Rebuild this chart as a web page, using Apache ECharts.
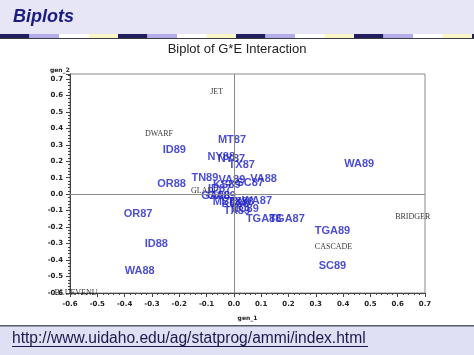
<!DOCTYPE html>
<html lang="en">
<head>
    <meta charset="UTF-8">
    <title>Biplots</title>
    <style>
        html, body, #main {
            width: 100%;
            height: 100%;
            margin: 0;
            padding: 0;
            background: #ffffff;
        }
    </style>
    <script src="https://cdn.jsdelivr.net/npm/echarts@6/dist/echarts.min.js"></script>
</head>
<body>
    <div id="main"></div>
    <script>
        // genotypes (black serif labels)
        var genoNames = ['JET', 'DWARF', 'GLADE', 'BRIDGER', 'CASCADE', 'BLUEVENU'];
        var genoX = [-0.063, -0.274, -0.107, 0.655, 0.365, -0.578];
        var genoY = [0.624, 0.364, 0.023, -0.135, -0.323, -0.597];

        // environments (blue bold labels)
        var envNames = ['MT87', 'ID89', 'NY88', 'NY87', 'TX87', 'WA89', 'TN89', 'OR88', 'VA89', 'VA88',
            'KS89', 'SC87', 'ID87', 'GA88', 'GA89', 'WA87', 'MS88', 'KS88', 'TX88', 'TX89', 'NC89',
            'TGA88', 'TGA87', 'TGA89', 'SC89', 'OR87', 'ID88', 'WA88'];
        var envX = [-0.007, -0.218, -0.046, -0.009, 0.029, 0.459, -0.106, -0.228, -0.007, 0.109,
            -0.026, 0.06, -0.052, -0.067, -0.045, 0.085, -0.025, 0.005, 0.025, 0.011, 0.04,
            0.109, 0.195, 0.361, 0.361, -0.351, -0.284, -0.345];
        var envY = [0.331, 0.266, 0.225, 0.213, 0.178, 0.184, 0.098, 0.061, 0.084, 0.094,
            0.058, 0.068, 0.029, -0.008, -0.008, -0.04, -0.05, -0.058, -0.045, -0.102, -0.09,
            -0.151, -0.151, -0.223, -0.433, -0.12, -0.3, -0.464];

        function toPoints(names, xs, ys) {
            return names.map(function (n, i) { return [xs[i], ys[i], n]; });
        }

        // header stripe: dark, lavender, white, yellow repeating
        var stripeColors = ['#221e5c', '#b4aee6', '#ffffff', '#fbf6c6'];
        var stripes = [];
        for (var i = 0; i < 17; i++) {
            stripes.push({
                type: 'rect',
                shape: { x: i * 29.5, y: 34, width: 29.5, height: 4 },
                style: { fill: stripeColors[i % 4] },
                silent: true
            });
        }

        var chart = echarts.init(document.getElementById('main'));

        var tickFont = {
            fontFamily: 'DejaVu Sans',
            fontSize: 7,
            fontWeight: 'bold',
            color: '#222'
        };

        chart.setOption({
            animation: false,
            graphic: [
                { type: 'rect', shape: { x: 0, y: 0, width: 474, height: 34 }, style: { fill: '#e6e6f7' }, silent: true },
                { type: 'text', left: 13, top: 8, style: { text: 'Biplots', fill: '#1c1c80', font: 'italic bold 18px Arial, "Liberation Sans"' } },
                { type: 'group', children: stripes },
                { type: 'rect', shape: { x: 0, y: 38, width: 474, height: 1 }, style: { fill: '#3a3a4a' }, silent: true },
                { type: 'text', left: 'center', top: 43, style: { text: 'Biplot of G*E Interaction', fill: '#222', font: '13px Arial, "Liberation Sans"' } },
                { type: 'text', left: 50, top: 67, style: { text: 'gen_2', fill: '#222', font: 'bold 6px "DejaVu Sans"' } },
                { type: 'rect', shape: { x: 0, y: 326, width: 474, height: 29 }, style: { fill: '#dfe0f3' }, silent: true },
                { type: 'rect', shape: { x: 0, y: 325, width: 474, height: 1.5 }, style: { fill: '#5a5a66' }, silent: true },
                { type: 'text', left: 12, top: 331, style: { text: 'http://www.uidaho.edu/ag/statprog/ammi/index.html', fill: '#1a1a4a', font: '15.6px Arial, "Liberation Sans"' } },
                { type: 'rect', shape: { x: 12, y: 346, width: 356, height: 1 }, style: { fill: '#1a1a4a' }, silent: true }
            ],
            grid: {
                left: 70,
                right: 49,
                top: 74,
                bottom: 62,
                show: true,
                borderColor: '#8a8a8a',
                borderWidth: 1
            },
            xAxis: {
                type: 'value',
                min: -0.6,
                max: 0.7,
                interval: 0.1,
                name: 'gen_1',
                nameLocation: 'middle',
                nameGap: 22,
                nameTextStyle: { fontFamily: 'DejaVu Sans', fontSize: 6, fontWeight: 'bold', color: '#222' },
                axisLine: { onZero: false, lineStyle: { color: '#444' } },
                axisTick: { inside: false, length: 4, lineStyle: { color: '#444' } },
                minorTick: { show: true, splitNumber: 5, length: 2, lineStyle: { color: '#444' } },
                splitLine: { show: false },
                axisLabel: Object.assign({ margin: 8, formatter: function (v) { return v.toFixed(1); } }, tickFont)
            },
            yAxis: {
                type: 'value',
                min: -0.6,
                max: 0.73,
                interval: 0.1,
                axisLine: { onZero: false, lineStyle: { color: '#444' } },
                axisTick: { length: 4, lineStyle: { color: '#444' } },
                minorTick: { show: true, splitNumber: 5, length: 2, lineStyle: { color: '#444' } },
                splitLine: { show: false },
                axisLabel: Object.assign({ margin: 7, showMaxLabel: false, formatter: function (v) { return v.toFixed(1); } }, tickFont)
            },
            series: [
                {
                    name: 'genotype',
                    type: 'scatter',
                    symbolSize: 1,
                    itemStyle: { color: 'rgba(0,0,0,0)' },
                    data: toPoints(genoNames, genoX, genoY),
                    label: {
                        show: true,
                        position: 'inside',
                        formatter: function (p) { return p.data[2]; },
                        fontFamily: '"Liberation Serif", "DejaVu Serif", serif',
                        fontSize: 8,
                        color: '#000'
                    },
                    markLine: {
                        silent: true,
                        symbol: 'none',
                        label: { show: false },
                        lineStyle: { color: '#8a8a8a', width: 1, type: 'solid' },
                        data: [{ xAxis: 0 }, { yAxis: 0 }]
                    }
                },
                {
                    name: 'environment',
                    type: 'scatter',
                    symbolSize: 1,
                    itemStyle: { color: 'rgba(0,0,0,0)' },
                    data: toPoints(envNames, envX, envY),
                    label: {
                        show: true,
                        position: 'inside',
                        formatter: function (p) { return p.data[2]; },
                        fontFamily: 'Arial, "Liberation Sans"',
                        fontWeight: 'bold',
                        fontSize: 11,
                        color: '#1f22c4'
                    }
                }
            ]
        });
    </script>
</body>
</html>
